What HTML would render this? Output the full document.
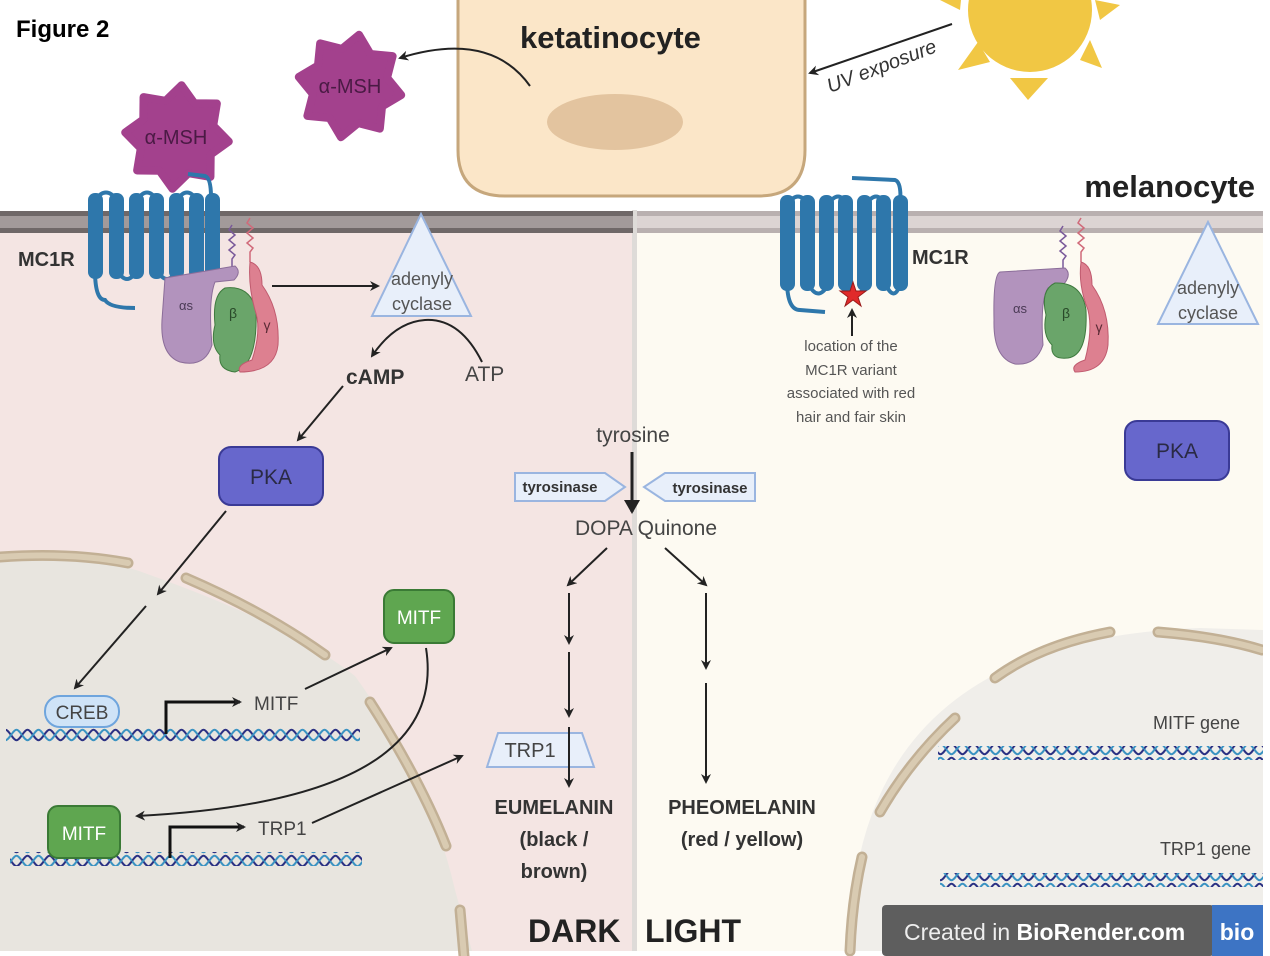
<!DOCTYPE html>
<html><head><meta charset="utf-8"><style>
html,body{margin:0;padding:0;background:#fff;}
svg{display:block;}
text{font-family:"Liberation Sans",sans-serif;}
</style></head><body>
<svg width="1270" height="956" viewBox="0 0 1270 956" xmlns="http://www.w3.org/2000/svg">
<defs>
<marker id="ah" markerWidth="10" markerHeight="10" refX="8" refY="5" orient="auto" markerUnits="userSpaceOnUse"><path d="M0,0 L10,5 L0,10 L3,5 Z" fill="#222"/></marker>
<marker id="ah2" markerWidth="16" markerHeight="16" refX="12" refY="8" orient="auto" markerUnits="userSpaceOnUse"><path d="M0,0 L14,8 L0,16 Z" fill="#222"/></marker>
<pattern id="dna" width="22" height="14" patternUnits="userSpaceOnUse">
<path d="M0,7 C5,0 6,0 11,7 S17,14 22,7" fill="none" stroke="#2b3183" stroke-width="2"/>
<path d="M0,7 C5,14 6,14 11,7 S17,0 22,7" fill="none" stroke="#3b93c2" stroke-width="2"/>
</pattern>
<polygon id="star" points="52,0 35.1,14.5 36.8,36.8 14.5,35.1 0,52 -14.5,35.1 -36.8,36.8 -35.1,14.5 -52,0 -35.1,-14.5 -36.8,-36.8 -14.5,-35.1 0,-52 14.5,-35.1 36.8,-36.8 35.1,-14.5" fill="#a3418d" stroke="#a3418d" stroke-width="8" stroke-linejoin="round"/>
</defs>

<!-- panels -->
<rect x="0" y="232" width="633" height="719" fill="#f4e5e3"/>
<rect x="637" y="232" width="626" height="719" fill="#fdfaf2"/>
<rect x="632" y="210" width="5" height="741" fill="#dedbd8"/>

<!-- left nucleus -->
<path d="M0,560 Q80,548 150,575 Q290,625 355,676 Q430,780 455,890 L472,951 L0,951 Z" fill="#e8e5df"/>
<g fill="none" stroke-linecap="round">
<g stroke="#c2b095" stroke-width="11">
<path d="M0,557 Q70,552 128,563"/><path d="M186,578 Q265,612 325,655"/><path d="M370,702 Q420,780 446,846"/><path d="M460,910 L464,956"/>
</g>
<g stroke="#d9cbb2" stroke-width="6">
<path d="M0,557 Q70,552 128,563"/><path d="M186,578 Q265,612 325,655"/><path d="M370,702 Q420,780 446,846"/><path d="M460,910 L464,956"/>
</g>
</g>

<!-- right nucleus -->
<path d="M850,951 Q850,640 1200,628 L1263,630 L1263,951 Z" fill="#f0eeea"/>
<g fill="none" stroke-linecap="round">
<g stroke="#c2b095" stroke-width="11">
<path d="M1158,632 Q1220,637 1262,650"/><path d="M1110,632 Q1040,645 995,678"/><path d="M955,718 Q910,760 880,812"/><path d="M862,857 Q852,900 850,951"/>
</g>
<g stroke="#d9cbb2" stroke-width="6">
<path d="M1158,632 Q1220,637 1262,650"/><path d="M1110,632 Q1040,645 995,678"/><path d="M955,718 Q910,760 880,812"/><path d="M862,857 Q852,900 850,951"/>
</g>
</g>

<!-- membrane -->
<rect x="0" y="211" width="633" height="22" fill="#6f6868"/>
<rect x="0" y="216" width="633" height="12" fill="#a29a9a"/>
<rect x="637" y="211" width="626" height="22" fill="#b9b0b0"/>
<rect x="637" y="216" width="626" height="12" fill="#dcd4d3"/>

<!-- keratinocyte -->
<path d="M458,0 L458,150 Q458,196 505,196 L758,196 Q805,196 805,150 L805,0" fill="#fbe6c8" stroke="#c6a77c" stroke-width="3"/>
<ellipse cx="615" cy="122" rx="68" ry="28" fill="#e3c49f"/>
<text x="520" y="48" font-size="31" font-weight="bold" fill="#222">ketatinocyte</text>
<path d="M530,86 Q490,30 400,58" fill="none" stroke="#222" stroke-width="2" marker-end="url(#ah)"/>

<!-- sun -->
<g fill="#f1c744">
<circle cx="1030" cy="10" r="62"/>
<polygon points="1010,78 1048,78 1028,100"/>
<polygon points="978,42 958,70 990,62"/>
<polygon points="960,10 940,0 962,-10"/>
<polygon points="1080,60 1102,68 1090,40"/>
<polygon points="1095,0 1120,5 1100,20"/>
</g>
<line x1="952" y1="24" x2="810" y2="73" stroke="#222" stroke-width="2" marker-end="url(#ah)"/>
<text x="0" y="0" font-size="20" font-style="italic" fill="#333" transform="translate(830,93) rotate(-21)">UV exposure</text>

<!-- alpha-MSH -->
<use href="#star" transform="translate(350,86) rotate(10)"/>
<text x="350" y="93" font-size="20" fill="#4a1a44" text-anchor="middle">α-MSH</text>
<use href="#star" transform="translate(177,137) rotate(5)"/>
<text x="176" y="144" font-size="20" fill="#4a1a44" text-anchor="middle">α-MSH</text>

<text x="16" y="37" font-size="24" font-weight="bold" fill="#000">Figure 2</text>
<text x="1255" y="197" font-size="31" font-weight="bold" fill="#222" text-anchor="end">melanocyte</text>

<!-- left receptor -->
<g fill="none" stroke="#2e77ab" stroke-width="4">
<path d="M211,197 Q211,178 205,176 L188,174"/>
<path d="M95,270 Q95,300 105,300 Q110,308 135,308"/>
<path d="M95,200 Q106,185 117,200 M137,200 Q147,185 157,200 M177,200 Q187,185 197,200"/>
<path d="M117,270 Q127,288 137,270 M157,270 Q167,288 177,270 M197,270 Q207,288 212,270"/>
</g>
<g fill="#2e77ab">
<rect x="88" y="193" width="15" height="86" rx="7"/><rect x="109" y="193" width="15" height="86" rx="7"/>
<rect x="129" y="193" width="15" height="86" rx="7"/><rect x="149" y="193" width="15" height="86" rx="7"/>
<rect x="169" y="193" width="15" height="86" rx="7"/><rect x="189" y="193" width="15" height="86" rx="7"/>
<rect x="205" y="193" width="15" height="86" rx="7"/>
</g>
<text x="18" y="266" font-size="20" font-weight="bold" fill="#333">MC1R</text>

<!-- left G protein -->
<path d="M232,225 l-3,5 l6,5 l-6,5 l6,5 l-6,5 l6,5 l-3,4 l0,10" fill="none" stroke="#7a5a9a" stroke-width="1.5"/>
<path d="M250,218 l-3,5 l6,5 l-6,5 l6,5 l-6,5 l6,5 l-3,4 l0,10" fill="none" stroke="#d06a7a" stroke-width="1.5"/>
<path d="M165,278 L235,266 Q242,272 234,280 L215,282 Q208,300 212,345 Q205,368 180,362 Q160,355 162,320 Z" fill="#b293bd" stroke="#8b6d99" stroke-width="1"/>
<path d="M225,288 Q250,285 256,310 Q258,365 235,372 Q218,370 220,355 Q210,345 215,325 Q212,295 225,288 Z" fill="#6aa56a" stroke="#3e7a3e" stroke-width="1"/>
<path d="M250,262 Q262,265 262,285 Q280,310 278,345 Q275,372 240,372 Q236,365 252,360 Q262,330 255,310 Q248,285 250,262 Z" fill="#dd8090" stroke="#c05a6e" stroke-width="1"/>
<text x="186" y="310" font-size="13" fill="#4a3a55" text-anchor="middle">αs</text>
<text x="233" y="318" font-size="14" fill="#2a4a2a" text-anchor="middle">β</text>
<text x="267" y="330" font-size="14" fill="#5a2a35" text-anchor="middle">γ</text>

<line x1="272" y1="286" x2="378" y2="286" stroke="#222" stroke-width="2" marker-end="url(#ah)"/>
<polygon points="421,214 372,316 471,316" fill="#e8effa" stroke="#9ab5e0" stroke-width="2"/>
<text x="422" y="285" font-size="18" fill="#555" text-anchor="middle">adenyly</text>
<text x="422" y="310" font-size="18" fill="#555" text-anchor="middle">cyclase</text>
<path d="M482,362 Q460,318 425,320 Q395,322 372,356" fill="none" stroke="#222" stroke-width="2" marker-end="url(#ah)"/>
<text x="346" y="384" font-size="21" font-weight="bold" fill="#333">cAMP</text>
<text x="465" y="381" font-size="21" fill="#444">ATP</text>
<line x1="343" y1="386" x2="298" y2="440" stroke="#222" stroke-width="2" marker-end="url(#ah)"/>

<rect x="219" y="447" width="104" height="58" rx="12" fill="#6767cc" stroke="#3a3a96" stroke-width="2"/>
<text x="271" y="484" font-size="21" fill="#2a2a44" text-anchor="middle">PKA</text>
<line x1="226" y1="511" x2="158" y2="594" stroke="#222" stroke-width="2" marker-end="url(#ah)"/>
<line x1="146" y1="606" x2="75" y2="688" stroke="#222" stroke-width="2" marker-end="url(#ah)"/>

<!-- DNA left -->
<rect x="6" y="728" width="354" height="14" fill="url(#dna)"/>
<rect x="10" y="852" width="352" height="14" fill="url(#dna)"/>
<rect x="45" y="696" width="74" height="31" rx="15" fill="#cfe3f7" stroke="#6fa5dd" stroke-width="2"/>
<text x="82" y="719" font-size="19" fill="#444" text-anchor="middle">CREB</text>
<path d="M166,734 L166,702 L240,702" fill="none" stroke="#111" stroke-width="3" marker-end="url(#ah)"/>
<text x="254" y="710" font-size="19" fill="#444">MITF</text>
<line x1="305" y1="689" x2="391" y2="648" stroke="#222" stroke-width="2" marker-end="url(#ah)"/>
<rect x="384" y="590" width="70" height="53" rx="10" fill="#5fa650" stroke="#3a7a35" stroke-width="2"/>
<text x="419" y="624" font-size="19" fill="#fff" text-anchor="middle">MITF</text>
<path d="M426,648 Q450,800 137,816" fill="none" stroke="#222" stroke-width="2" marker-end="url(#ah)"/>
<rect x="48" y="806" width="72" height="52" rx="10" fill="#5fa650" stroke="#3a7a35" stroke-width="2"/>
<text x="84" y="840" font-size="19" fill="#fff" text-anchor="middle">MITF</text>
<path d="M170,858 L170,827 L244,827" fill="none" stroke="#111" stroke-width="3" marker-end="url(#ah)"/>
<text x="258" y="835" font-size="19" fill="#444">TRP1</text>
<line x1="312" y1="823" x2="462" y2="756" stroke="#222" stroke-width="2" marker-end="url(#ah)"/>

<!-- middle pathway -->
<text x="633" y="442" font-size="21" fill="#444" text-anchor="middle">tyrosine</text>
<line x1="632" y1="452" x2="632" y2="512" stroke="#222" stroke-width="3" marker-end="url(#ah2)"/>
<polygon points="515,473 605,473 625,487 605,501 515,501" fill="#e8effa" stroke="#9ab5e0" stroke-width="2"/>
<text x="560" y="492" font-size="15" font-weight="bold" fill="#333" text-anchor="middle">tyrosinase</text>
<polygon points="755,473 665,473 644,487 665,501 755,501" fill="#e8effa" stroke="#9ab5e0" stroke-width="2"/>
<text x="710" y="493" font-size="15" font-weight="bold" fill="#333" text-anchor="middle">tyrosinase</text>
<text x="646" y="535" font-size="21" fill="#444" text-anchor="middle">DOPA Quinone</text>
<line x1="607" y1="548" x2="568" y2="585" stroke="#222" stroke-width="2" marker-end="url(#ah)"/>
<line x1="665" y1="548" x2="706" y2="585" stroke="#222" stroke-width="2" marker-end="url(#ah)"/>
<line x1="569" y1="593" x2="569" y2="643" stroke="#222" stroke-width="2" marker-end="url(#ah)"/>
<line x1="569" y1="652" x2="569" y2="716" stroke="#222" stroke-width="2" marker-end="url(#ah)"/>
<polygon points="498,733 582,733 594,767 487,767" fill="#e8effa" stroke="#9ab5e0" stroke-width="2"/>
<text x="530" y="757" font-size="20" fill="#444" text-anchor="middle">TRP1</text>
<line x1="569" y1="727" x2="569" y2="786" stroke="#222" stroke-width="2" marker-end="url(#ah)"/>
<line x1="706" y1="593" x2="706" y2="668" stroke="#222" stroke-width="2" marker-end="url(#ah)"/>
<line x1="706" y1="683" x2="706" y2="782" stroke="#222" stroke-width="2" marker-end="url(#ah)"/>
<text x="554" y="814" font-size="20" font-weight="bold" fill="#333" text-anchor="middle">EUMELANIN</text>
<text x="554" y="846" font-size="20" font-weight="bold" fill="#333" text-anchor="middle">(black /</text>
<text x="554" y="878" font-size="20" font-weight="bold" fill="#333" text-anchor="middle">brown)</text>
<text x="742" y="814" font-size="20" font-weight="bold" fill="#333" text-anchor="middle">PHEOMELANIN</text>
<text x="742" y="846" font-size="20" font-weight="bold" fill="#333" text-anchor="middle">(red / yellow)</text>
<text x="528" y="942" font-size="32" font-weight="bold" fill="#222">DARK</text>
<text x="645" y="942" font-size="32" font-weight="bold" fill="#222">LIGHT</text>

<!-- right receptor -->
<g fill="none" stroke="#2e77ab" stroke-width="4">
<path d="M900,205 Q902,182 895,180 L852,178"/>
<path d="M787,280 Q787,310 800,310 L825,312"/>
<path d="M787,205 Q798,188 809,205 M828,205 Q838,188 848,205 M866,205 Q876,188 886,205"/>
<path d="M809,285 Q818,302 828,285 M848,285 Q857,302 866,285 M886,285 Q894,302 900,285"/>
</g>
<g fill="#2e77ab">
<rect x="780" y="195" width="15" height="96" rx="7"/><rect x="800" y="195" width="15" height="96" rx="7"/>
<rect x="819" y="195" width="15" height="96" rx="7"/><rect x="838" y="195" width="15" height="96" rx="7"/>
<rect x="857" y="195" width="15" height="96" rx="7"/><rect x="876" y="195" width="15" height="96" rx="7"/>
<rect x="893" y="195" width="15" height="96" rx="7"/>
</g>
<polygon points="853,282 856,291 866,291 858,297 861,306 853,300 845,306 848,297 840,291 850,291" fill="#e02a2a" stroke="#9a1a1a" stroke-width="1"/>
<text x="912" y="264" font-size="20" font-weight="bold" fill="#333">MC1R</text>
<line x1="852" y1="336" x2="852" y2="310" stroke="#222" stroke-width="2" marker-end="url(#ah)"/>
<g font-size="15" fill="#555" text-anchor="middle">
<text x="851" y="351">location of the</text>
<text x="851" y="375">MC1R variant</text>
<text x="851" y="398">associated with red</text>
<text x="851" y="422">hair and fair skin</text>
</g>

<!-- right G protein -->
<path d="M1063,226 l-3,5 l6,5 l-6,5 l6,5 l-6,5 l6,5 l-3,4 l0,10" fill="none" stroke="#7a5a9a" stroke-width="1.5"/>
<path d="M1081,218 l-3,5 l6,5 l-6,5 l6,5 l-6,5 l6,5 l-3,4 l0,10" fill="none" stroke="#d06a7a" stroke-width="1.5"/>
<path d="M1000,272 L1065,268 Q1072,274 1064,284 L1048,288 Q1040,300 1043,345 Q1036,366 1015,364 Q993,358 994,320 Q993,275 1000,272 Z" fill="#b293bd" stroke="#8b6d99" stroke-width="1"/>
<path d="M1055,283 Q1082,282 1086,310 Q1088,355 1068,358 Q1050,360 1052,345 Q1042,335 1046,315 Q1040,290 1055,283 Z" fill="#6aa56a" stroke="#3e7a3e" stroke-width="1"/>
<path d="M1081,262 Q1092,265 1092,285 Q1110,310 1108,345 Q1105,372 1075,372 Q1070,365 1085,360 Q1093,330 1088,310 Q1078,285 1081,262 Z" fill="#dd8090" stroke="#c05a6e" stroke-width="1"/>
<text x="1020" y="313" font-size="13" fill="#4a3a55" text-anchor="middle">αs</text>
<text x="1066" y="318" font-size="14" fill="#2a4a2a" text-anchor="middle">β</text>
<text x="1099" y="332" font-size="14" fill="#5a2a35" text-anchor="middle">γ</text>

<polygon points="1208,222 1158,324 1258,324" fill="#e8effa" stroke="#9ab5e0" stroke-width="2"/>
<text x="1208" y="294" font-size="18" fill="#555" text-anchor="middle">adenyly</text>
<text x="1208" y="319" font-size="18" fill="#555" text-anchor="middle">cyclase</text>
<rect x="1125" y="421" width="104" height="59" rx="12" fill="#6767cc" stroke="#3a3a96" stroke-width="2"/>
<text x="1177" y="458" font-size="21" fill="#2a2a44" text-anchor="middle">PKA</text>

<text x="1240" y="729" font-size="18" fill="#444" text-anchor="end">MITF gene</text>
<rect x="938" y="746" width="325" height="14" fill="url(#dna)"/>
<text x="1251" y="855" font-size="18" fill="#444" text-anchor="end">TRP1 gene</text>
<rect x="940" y="873" width="323" height="14" fill="url(#dna)"/>

<!-- badge -->
<rect x="882" y="905" width="332" height="51" rx="4" fill="#5e5e5e"/>
<rect x="1212" y="905" width="51" height="51" fill="#3d74c4"/>
<text x="904" y="940" font-size="23" fill="#eee">Created in <tspan font-weight="bold" fill="#fff">BioRender.com</tspan></text>
<text x="1237" y="940" font-size="23" font-weight="bold" fill="#fff" text-anchor="middle">bio</text>
<rect x="1263" y="0" width="7" height="956" fill="#fff"/>
</svg>
</body></html>
